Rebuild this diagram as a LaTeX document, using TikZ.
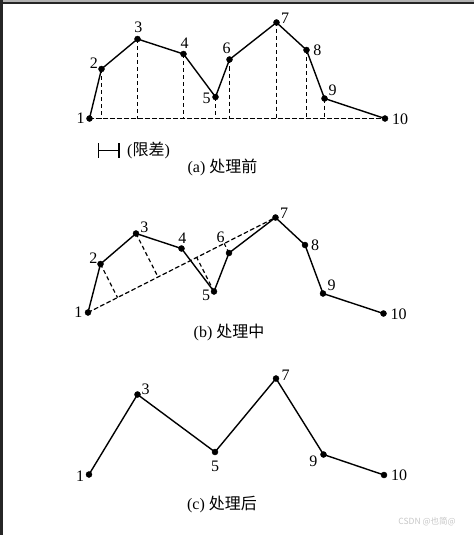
\documentclass[tikz,border=0pt]{standalone}
\usepackage{fontspec}
\setmainfont{Liberation Serif}
\newfontfamily\cjk{Noto Sans CJK SC}
\usepackage{tkz-euclide}
\usetikzlibrary{arrows.meta, calc}

\tikzset{
  polyline/.style={line width=1.4pt, line join=round},
  helper/.style={line width=1.2pt, dash pattern=on 4pt off 3pt},
  lbl/.style={inner sep=0pt, font=\fontsize{16}{18}\selectfont},
  caption/.style={inner sep=0pt, font=\fontsize{16}{18}\selectfont},
}

\begin{document}
\begin{tikzpicture}[x=1pt, y=-1pt]
    \useasboundingbox (0,0) rectangle (474,535);
    % frame edges of the screenshot
    \fill[gray!60] (0,0) rectangle (474,2.5);
    \fill[black!85] (0,2.5) rectangle (474,4.5);
    \fill[black!85] (0,0) rectangle (3,535);

    % (a)
    \tkzDefPoint(89.5,118.5){a_1}
    \tkzDefPoint(101.5,69){a_2}
    \tkzDefPoint(137.5,39){a_3}
    \tkzDefPoint(183.5,54){a_4}
    \tkzDefPoint(215.5,97){a_5}
    \tkzDefPoint(229.5,59.5){a_6}
    \tkzDefPoint(276.5,22.5){a_7}
    \tkzDefPoint(306.5,50){a_8}
    \tkzDefPoint(324.5,98.5){a_9}
    \tkzDefPoint(385,118.5){a_10}
    \tkzDrawSegment[helper](a_1,a_10)
    \foreach \i in {2,...,9}{
      \coordinate (fa_\i) at ($(a_1)!(a_\i)!(a_10)$);
      \draw[helper] (a_\i) -- (fa_\i);}
    \tkzDrawSegments[polyline](a_1,a_2 a_2,a_3 a_3,a_4 a_4,a_5 a_5,a_6 a_6,a_7 a_7,a_8 a_8,a_9 a_9,a_10)
    \tkzDrawPoints[size=6,color=black,fill=black](a_1,a_2,a_3,a_4,a_5,a_6,a_7,a_8,a_9,a_10)
    \node[lbl] (la_1) at ($(a_1)+(-8.8,-0.5)$) {1};
    \node[lbl] (la_2) at ($(a_2)+(-7.7,-5.7)$) {2};
    \node[lbl] (la_3) at ($(a_3)+(0.8,-11.3)$) {3};
    \node[lbl] (la_4) at ($(a_4)+(1,-10.7)$) {4};
    \node[lbl] (la_5) at ($(a_5)+(-8.8,1.3)$) {5};
    \node[lbl] (la_6) at ($(a_6)+(-2.8,-11.2)$) {6};
    \node[lbl] (la_7) at ($(a_7)+(8.5,-4.2)$) {7};
    \node[lbl] (la_8) at ($(a_8)+(10.8,0)$) {8};
    \node[lbl] (la_9) at ($(a_9)+(8,-7.8)$) {9};
    \node[lbl] (la_10) at ($(a_10)+(15,0.5)$) {10};

    % tolerance mark
    \tkzDefPoint(98.5,150.5){t_1}
    \tkzDefPoint(119,150.5){t_2}
    \draw[line width=1.3pt] (t_1) -- (t_2)
      ($(t_1)+(0,-7.5)$) -- ($(t_1)+(0,7)$)
      ($(t_2)+(0,-7.5)$) -- ($(t_2)+(0,7)$);
    \node[caption, anchor=west] (tol) at (127,150.5) {(\cjk 限差\rmfamily)};
    \node[caption] (capa) at (222.5,167) {(a) {\cjk 处理前}};

    % (b)
    \tkzDefPoint(88,312.5){b_1}
    \tkzDefPoint(100.5,264){b_2}
    \tkzDefPoint(136,233.5){b_3}
    \tkzDefPoint(181.5,248.5){b_4}
    \tkzDefPoint(214,291.5){b_5}
    \tkzDefPoint(229,253){b_6}
    \tkzDefPoint(275.5,217.5){b_7}
    \tkzDefPoint(305,245){b_8}
    \tkzDefPoint(323,293.5){b_9}
    \tkzDefPoint(383.5,313.5){b_10}
    \tkzDrawSegment[helper](b_1,b_7)
    \foreach \i in {2,3,5,6}{
      \coordinate (fb_\i) at ($(b_1)!(b_\i)!(b_7)$);
      \draw[helper] (b_\i) -- (fb_\i);}
    \tkzDrawSegments[polyline](b_1,b_2 b_2,b_3 b_3,b_4 b_4,b_5 b_5,b_6 b_6,b_7 b_7,b_8 b_8,b_9 b_9,b_10)
    \tkzDrawPoints[size=6,color=black,fill=black](b_1,b_2,b_3,b_4,b_5,b_6,b_7,b_8,b_9,b_10)
    \node[lbl] (lb_1) at ($(b_1)+(-9.7,0)$) {1};
    \node[lbl] (lb_2) at ($(b_2)+(-7.2,-5.7)$) {2};
    \node[lbl] (lb_3) at ($(b_3)+(8.3,-6.2)$) {3};
    \node[lbl] (lb_4) at ($(b_4)+(0.8,-10.2)$) {4};
    \node[lbl] (lb_5) at ($(b_5)+(-8,3.5)$) {5};
    \node[lbl] (lb_6) at ($(b_6)+(-8.5,-16)$) {6};
    \node[lbl] (lb_7) at ($(b_7)+(8.5,-4.2)$) {7};
    \node[lbl] (lb_8) at ($(b_8)+(10,0)$) {8};
    \node[lbl] (lb_9) at ($(b_9)+(8.7,-8.5)$) {9};
    \node[lbl] (lb_10) at ($(b_10)+(15,0.5)$) {10};
    \node[caption] (capb) at (229,332) {(b) {\cjk 处理中}};

    % (c)
    \tkzDefPoint(89,474.5){c_1}
    \tkzDefPoint(137.5,394.5){c_3}
    \tkzDefPoint(215,452){c_5}
    \tkzDefPoint(276,378.5){c_7}
    \tkzDefPoint(323.5,454.5){c_9}
    \tkzDefPoint(384,475){c_10}
    \tkzDrawSegments[polyline](c_1,c_3 c_3,c_5 c_5,c_7 c_7,c_9 c_9,c_10)
    \tkzDrawPoints[size=6,color=black,fill=black](c_1,c_3,c_5,c_7,c_9,c_10)
    \node[lbl] (lc_1) at ($(c_1)+(-9,1.5)$) {1};
    \node[lbl] (lc_3) at ($(c_3)+(8.2,-5.5)$) {3};
    \node[lbl] (lc_5) at ($(c_5)+(0,14)$) {5};
    \node[lbl] (lc_7) at ($(c_7)+(9.7,-3.5)$) {7};
    \node[lbl] (lc_9) at ($(c_9)+(-10.2,7.2)$) {9};
    \node[lbl] (lc_10) at ($(c_10)+(15,0.7)$) {10};
    \node[caption] (capc) at (222,504) {(c) {\cjk 处理后}};

    \node[inner sep=0pt, text=gray!45, font=\cjk\fontsize{8.5}{10}\selectfont] (mark) at (427,522) {CSDN @也简@};
\end{tikzpicture}
\end{document}
